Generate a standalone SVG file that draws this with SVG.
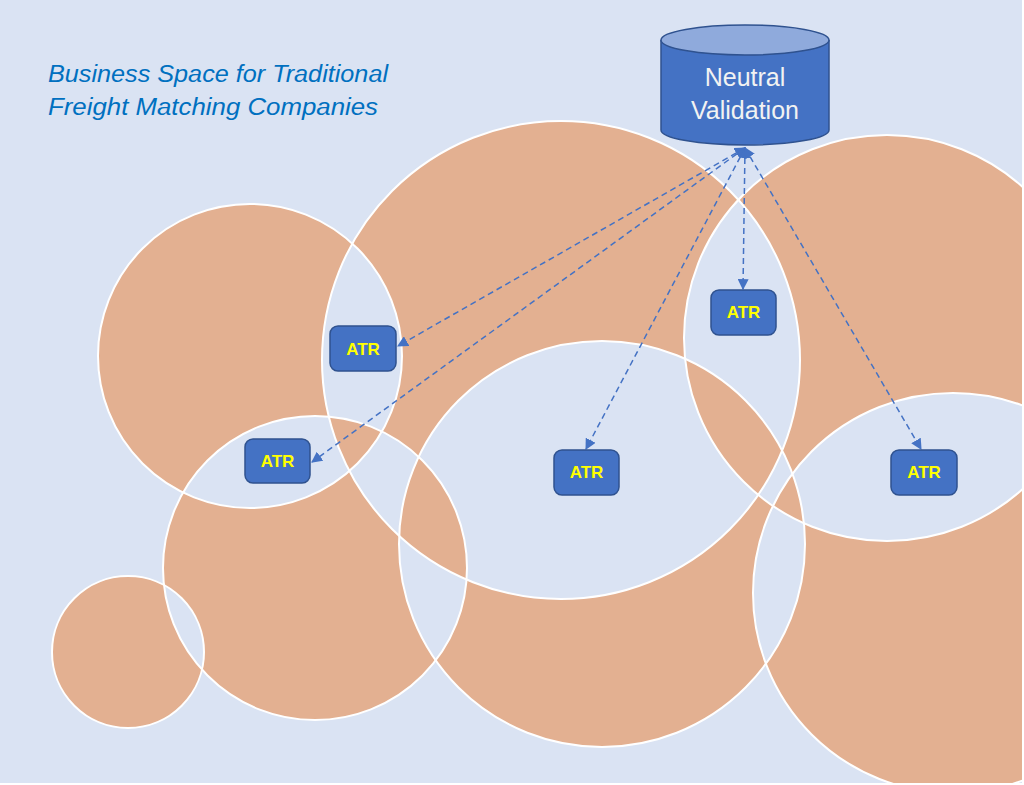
<svg xmlns="http://www.w3.org/2000/svg" width="1024" height="785" viewBox="0 0 1024 785">
<defs>
<style>
.ring{fill:none;stroke:#ffffff;stroke-width:2}
.box{fill:#4472c4;stroke:#2f528f;stroke-width:1.5}
.lbl{font-family:"Liberation Sans",Arial,sans-serif;font-weight:bold;font-size:17px;fill:#ffff00;text-anchor:middle}
.link{stroke:#4472c4;stroke-width:1.5;stroke-dasharray:6 4;fill:none;marker-start:url(#ah);marker-end:url(#ah)}
.title{font-family:"Liberation Sans",Arial,sans-serif;font-style:italic;font-size:23px;fill:#0070c0}
.cyl{font-family:"Liberation Sans",Arial,sans-serif;font-size:25px;fill:#f2f2f2;text-anchor:middle}
</style>
<marker id="ah" viewBox="0 0 10 10" refX="9" refY="5" markerWidth="11" markerHeight="11" markerUnits="userSpaceOnUse" orient="auto-start-reverse">
<path d="M0,0 L10,5 L0,10 z" fill="#4472c4"/>
</marker>
<clipPath id="bg"><rect x="0" y="0" width="1022" height="783"/></clipPath>
</defs>
<rect x="0" y="0" width="1024" height="785" fill="#ffffff"/>
<rect x="0" y="0" width="1022" height="783" fill="#dae3f3"/>
<g id="circles" clip-path="url(#bg)">
<path fill="#e3b091" fill-rule="evenodd" d="
M52,652 a76,76 0 1,0 152,0 a76,76 0 1,0 -152,0 Z
M98,356 a152,152 0 1,0 304,0 a152,152 0 1,0 -304,0 Z
M163,568 a152,152 0 1,0 304,0 a152,152 0 1,0 -304,0 Z
M322,360 a239,239 0 1,0 478,0 a239,239 0 1,0 -478,0 Z
M399,544 a203,203 0 1,0 406,0 a203,203 0 1,0 -406,0 Z
M684,338 a203,203 0 1,0 406,0 a203,203 0 1,0 -406,0 Z
M753,593 a200,200 0 1,0 400,0 a200,200 0 1,0 -400,0 Z"/>
<circle class="ring" cx="128" cy="652" r="76"/>
<circle class="ring" cx="250" cy="356" r="152"/>
<circle class="ring" cx="315" cy="568" r="152"/>
<circle class="ring" cx="561" cy="360" r="239"/>
<circle class="ring" cx="602" cy="544" r="203"/>
<circle class="ring" cx="887" cy="338" r="203"/>
<circle class="ring" cx="953" cy="593" r="200"/>
</g>
<g id="title">
<text class="title" x="48" y="82" textLength="340" lengthAdjust="spacingAndGlyphs">Business Space for Traditional</text>
<text class="title" x="48" y="115" textLength="330" lengthAdjust="spacingAndGlyphs">Freight Matching Companies</text>
</g>
<g id="connectors">
<line class="link" x1="745" y1="148" x2="398" y2="346"/>
<line class="link" x1="745" y1="148" x2="312" y2="462"/>
<line class="link" x1="745" y1="148" x2="586" y2="449"/>
<line class="link" x1="745" y1="148" x2="743" y2="289"/>
<line class="link" x1="745" y1="148" x2="921" y2="449"/>
</g>
<g id="neutral-validation">
<path d="M661,40 L661,130 A84,15 0 0,0 829,130 L829,40" fill="#4472c4" stroke="#2f528f" stroke-width="1.5"/>
<ellipse cx="745" cy="40" rx="84" ry="15" fill="#8faadc" stroke="#2f528f" stroke-width="1.5"/>
<text class="cyl" x="745" y="86">Neutral</text>
<text class="cyl" x="745" y="119">Validation</text>
</g>
<g id="atr1"><rect class="box" x="330" y="326" width="66" height="45" rx="8"/><text class="lbl" x="363" y="355">ATR</text></g>
<g id="atr2"><rect class="box" x="245" y="439" width="65" height="44" rx="8"/><text class="lbl" x="277.5" y="467">ATR</text></g>
<g id="atr3"><rect class="box" x="554" y="450" width="65" height="45" rx="8"/><text class="lbl" x="586.5" y="478">ATR</text></g>
<g id="atr4"><rect class="box" x="711" y="290" width="65" height="45" rx="8"/><text class="lbl" x="743.5" y="318">ATR</text></g>
<g id="atr5"><rect class="box" x="891" y="450" width="66" height="45" rx="8"/><text class="lbl" x="924" y="478">ATR</text></g>
</svg>
